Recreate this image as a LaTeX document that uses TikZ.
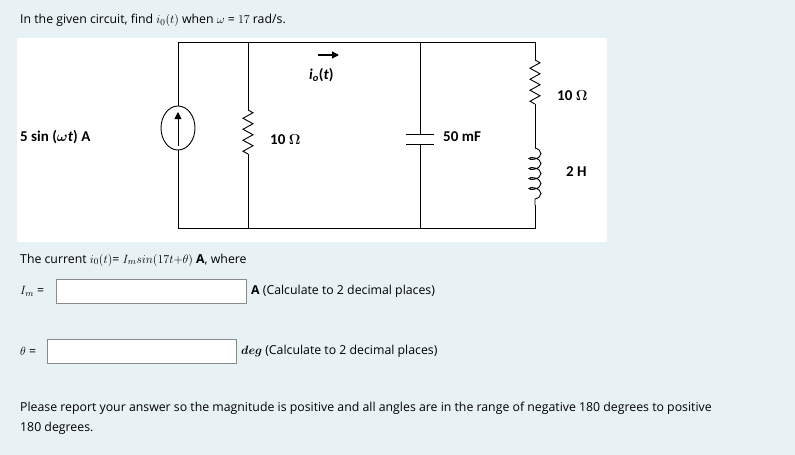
\documentclass[tikz,border=0pt]{standalone}
\usepackage{amsmath}
\usepackage{fontspec}
\setmainfont{Open Sans}
\newfontfamily\carlitofont{Carlito}
\usetikzlibrary{decorations.pathmorphing,arrows.meta,shapes.geometric}
\definecolor{bg}{HTML}{E8F1F4}
\definecolor{boxb}{HTML}{8A8A8A}
\begin{document}
\begin{tikzpicture}[x=1pt,y=-1pt,
  wire/.style={line width=0.9pt},
  lab/.style={font=\carlitofont\bfseries\fontsize{15}{17}\selectfont,anchor=west,inner sep=0},
  txt/.style={font=\fontsize{12.3}{14}\selectfont,anchor=west,inner sep=0},
  ansbox/.style={draw=boxb,fill=white,line width=0.6pt}]
\useasboundingbox (0,0) rectangle (795,455);
\fill[bg] (0,0) rectangle (795,455);
\fill[white] (17,38) rectangle (607,242);
\node[txt] (q) at (20,20) {In the given circuit, find $i_0(t)$ when $\omega$ = $17$ rad/s.};
% wires
\coordinate (tl) at (178,42); \coordinate (tr) at (535,42);
\coordinate (bl) at (178,228); \coordinate (br) at (535,228);
\draw[wire] (bl) -- (tl) -- (tr) -- (535,60);
\draw[wire] (bl) -- (br) -- (535,205);
% source
\node[draw,wire,fill=white,ellipse,minimum width=34,minimum height=44,inner sep=0] (src) at (178,128) {};
\draw[wire,-{Triangle[length=7,width=7]}] (178,146) -- (178,112);
% resistor 1
\coordinate (r1t) at (248,110); \coordinate (r1b) at (248,154);
\draw[wire] (248,42) -- (r1t);
\draw[wire,decorate,decoration={zigzag,segment length=11,amplitude=5}] (r1t) -- (r1b);
\draw[wire] (r1b) -- (248,228);
% capacitor
\draw[wire] (420,42) -- (420,134); \draw[wire] (420,144) -- (420,228);
\draw[wire] (406,134) -- (434,134); \draw[wire] (406,144) -- (434,144);
% right resistor
\draw[wire,decorate,decoration={zigzag,segment length=11,amplitude=5}] (535,60) -- (535,104);
\draw[wire] (535,104) -- (535,148);
% inductor
\draw[wire,decorate,decoration={coil,aspect=0.5,segment length=10,amplitude=6}] (535,148) -- (535,205);
% labels
\node[lab] (l1) at (20,137) {5 sin ($\boldsymbol{\omega}$\textit{t}) A};
\node[lab] (l2) at (270,140) {10 $\boldsymbol{\Omega}$};
\node[lab] (l3) at (443,137) {50 mF};
\node[lab] (l4) at (557,96) {10 $\boldsymbol{\Omega}$};
\node[lab] (l5) at (566,172) {2 H};
\node[lab] (io) at (309,75) {\textit{i}\textsubscript{\textit{o}}(\textit{t})};
\draw[line width=1.3pt,-{Triangle[length=7,width=7]}] (318,55) -- (339,55);
% answer text
\node[txt] (t1) at (20,260) {The current $i_0(t)$= $I_m sin(17t{+}\theta)$ $\mathbf{A}$, where};
\node[txt] (t2) at (20,291) {$I_m$ =};
\node[ansbox,minimum width=190,minimum height=24,anchor=north west] (b1) at (56,279) {};
\node[txt] (t3) at (251,291) {$\mathbf{A}$ (Calculate to 2 decimal places)};
\node[txt] (t4) at (20,351) {$\theta$ =};
\node[ansbox,minimum width=189,minimum height=24,anchor=north west] (b2) at (47,339) {};
\node[txt] (t5) at (241,351) {$\boldsymbol{deg}$ (Calculate to 2 decimal places)};
\node[txt] (t6) at (20,408) {Please report your answer so the magnitude is positive and all angles are in the range of negative 180 degrees to positive};
\node[txt] (t7) at (20,428) {180 degrees.};
\end{tikzpicture}
\end{document}
